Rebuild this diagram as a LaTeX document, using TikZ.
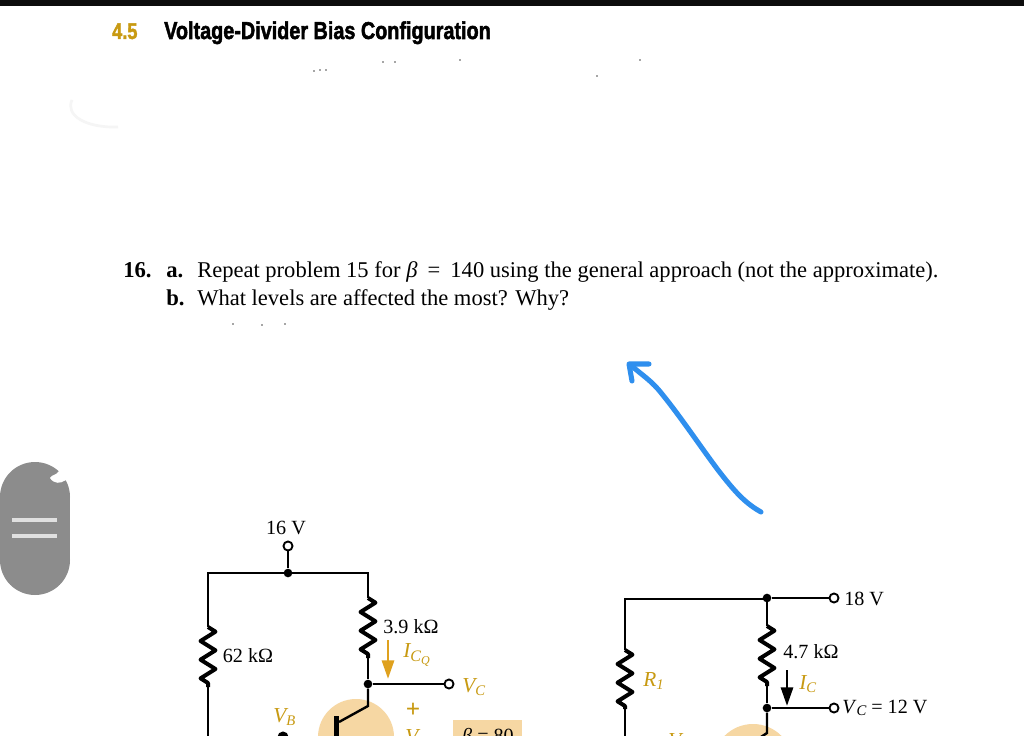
\documentclass[tikz,border=0pt]{standalone}
\usepackage{fontspec}
\setmainfont{Liberation Serif}
\newfontfamily\headfont[BoldFeatures={FakeBold=2.2}]{Liberation Sans}
\usetikzlibrary{decorations.pathmorphing,arrows.meta}
\definecolor{ochre}{HTML}{C89A12}
\definecolor{arrowochre}{HTML}{DFA11E}
\definecolor{tan}{HTML}{F6D7A3}
\definecolor{handblue}{HTML}{2F8FEE}
\definecolor{pillgrey}{HTML}{8C8C8C}
\newcommand{\lowsub}[1]{\raisebox{-.3ex}{\fontsize{11}{12}\selectfont\itshape #1}}
\tikzset{
  wire/.style={line width=1.5pt,black},
  res/.style={line width=3pt,line join=round,decorate,decoration={zigzag,amplitude=5.6pt,segment length=14pt}},
  term/.style={circle,draw,line width=1.4pt,fill=white,inner sep=0pt,minimum size=6.8pt},
  junc/.style={circle,fill=black,inner sep=0pt,minimum size=6.5pt},
  lab/.style={font=\fontsize{15.1}{17}\selectfont,inner sep=0pt},
  olab/.style={font=\fontsize{16}{18}\selectfont\itshape,text=ochre,inner sep=0pt},
  prob/.style={font=\fontsize{16.9}{19}\selectfont,anchor=base west,inner sep=0pt},
  speck/.style={circle,fill=black!70,inner sep=0pt,minimum size=1.4pt},
  ocur/.style={line width=2.2pt,arrowochre,-{Triangle[length=14pt,width=9pt]}},
  kcur/.style={line width=2.2pt,black,-{Triangle[length=14pt,width=9pt]}},
}
\begin{document}
\begin{tikzpicture}[x=0.75pt,y=-0.75pt]
\useasboundingbox (0,0) rectangle (1024,735);
\clip (0,0) rectangle (1024,735);
\fill[white] (0,0) rectangle (1024,735);
\fill[black!95] (0,0) rectangle (1024,6);
% header
\node[anchor=base west,inner sep=0pt,xscale=.8,text=ochre,font=\headfont\bfseries\fontsize{17}{19}\selectfont] (secnum) at (112,39) {4.5};
\node[anchor=base west,inner sep=0pt,xscale=.812,font=\headfont\bfseries\fontsize{18.3}{20}\selectfont] (title) at (164,39) {Voltage-Divider Bias Configuration};
% scan specks
\foreach \p/\q in {314/71,320/70,326/70,383/62,395/62,460/60,597/76,640/60,233/324,262/325,285/324}
  \node[speck] at (\p,\q) {};
\draw[black!4,line width=2pt] (118,127) .. controls (85,128) and (65,115) .. (72,100);
% problem text
\node[prob,font=\fontsize{17}{19}\selectfont\bfseries] (n16) at (123,277) {16.};
\node[prob,font=\fontsize{17}{19}\selectfont\bfseries] (na) at (166,277) {a.};
\node[prob,font=\fontsize{17}{19}\selectfont\bfseries] (nb) at (166,305) {b.};
\node[prob] (ta) at (197,277) {Repeat problem 15 for \textit{β}\hspace{.2em} = \hspace{.2em}140 using the general approach (not the approximate).};
\node[prob] (tb) at (197,305) {What levels are affected the most? Why?};
% grey pill
\fill[pillgrey] (35,497) circle (35);
\fill[pillgrey] (35,560) circle (35);
\fill[pillgrey] (0,497) rectangle (70,560);
\fill[white] (50,478) .. controls (52,474) and (56,476) .. (59,471) -- (72,470) -- (72,482) -- (66,480) .. controls (60,484) and (54,484) .. (50,478) -- cycle;
\foreach \q in {519.5,536} \draw[white!88!black,line width=3pt] (12,\q) -- (57,\q);
% hand-drawn arrow
\coordinate (bs) at (761,512);
\coordinate (be) at (633,367);
\draw[handblue,line width=3.8pt,line cap=round,line join=round]
  (bs) .. controls (745,503) and (735,492) .. (718,470) .. controls (700,446) and (680,416) .. (662,394) .. controls (652,381) and (642,375) .. (be);
\draw[handblue,line width=3.8pt,line cap=round,line join=round] (632,381) -- (629,364) -- (649,364);
% left circuit
\fill[tan] (356,737) circle (38);
\fill[tan] (453,720) rectangle (522,740);
\node[lab] (v16) at (286,528) {16 V};
\node[term] (t16) at (288,546) {};
\node[junc] (j1) at (288,573) {};
\coordinate (c1l) at (208,573);
\coordinate (c1r) at (368,573);
\coordinate (r1a) at (208,627);
\coordinate (r1b) at (208,687);
\coordinate (r2a) at (368,598);
\coordinate (r2b) at (368,658);
\node[junc] (j2) at (368,684) {};
\node[term] (tvc) at (449,684) {};
\coordinate (col) at (368,706);
\coordinate (bar) at (339,722);
\coordinate (lb) at (208,740);
\draw[wire] (t16) -- (j1);
\draw[wire] (r1a) -- (c1l) -- (c1r) -- (r2a);
\draw[res] (r1a) -- (r1b);
\draw[res] (r2a) -- (r2b);
\draw[wire] (r1b) -- (lb);
\draw[wire] (r2b) -- (j2);
\draw[wire] (j2) -- (tvc);
\draw[wire,line width=1.8pt] (j2) -- (col) -- (bar);
\draw[black,line width=3.6pt] (336.5,716) -- (336.5,740);
\node[term,fill=black] (tb1) at (283,737) {};
\node[lab] (l62) at (248,656) {62 kΩ};
\node[lab] (l39) at (411,627) {3.9 kΩ};
\coordinate (ia) at (388,640);
\coordinate (ib) at (388,679);
\draw[ocur] (ia) -- (ib);
\node[olab,anchor=west] (licq) at (403,655) {I\raisebox{-.45ex}{\fontsize{12}{13}\selectfont C\raisebox{-.4ex}{\fontsize{9}{10}\selectfont Q}}};
\node[olab,anchor=west] (lvc) at (462,687) {V\lowsub{C}};
\node[olab,anchor=west] (lvb) at (273,717) {V\lowsub{B}};
\node[lab,text=ochre,font=\fontsize{19}{21}\selectfont\bfseries] (plus) at (413,710) {+};
\node[olab,anchor=west] (lvce) at (405,738) {V\lowsub{CE}};
\node[lab] (lbeta) at (488,738) {\textit{β} = 80};
% right circuit
\fill[tan] (753,764) circle (40);
\node[junc] (j3) at (767,598) {};
\node[term] (t18) at (834,598) {};
\node[lab,anchor=west] (l18) at (844,599) {18 V};
\coordinate (c2l) at (625,599);
\coordinate (r3a) at (625,650);
\coordinate (r3b) at (625,709);
\coordinate (r4a) at (767,626);
\coordinate (r4b) at (767,686);
\node[junc] (j4) at (767,708) {};
\node[term] (tvc2) at (834,708) {};
\coordinate (lb2) at (625,740);
\coordinate (col2) at (767,733);
\coordinate (bar2) at (761,737);
\draw[wire] (r3a) -- (c2l) -- (c2l -| j3) -- (j3) -- (t18);
\draw[wire] (j3) -- (r4a);
\draw[res] (r3a) -- (r3b);
\draw[res] (r4a) -- (r4b);
\draw[wire] (r3b) -- (lb2);
\draw[wire] (r4b) -- (j4);
\draw[wire] (j4) -- (tvc2);
\draw[wire,line width=1.8pt] (j4) -- (col2) -- (bar2);
\node[lab] (l47) at (811,652) {4.7 kΩ};
\coordinate (ka) at (787,670);
\coordinate (kb) at (787,706);
\draw[kcur] (ka) -- (kb);
\node[olab,anchor=west] (lic) at (799,684) {I\lowsub{C}};
\node[olab,anchor=west] (lr1) at (643,681) {R\lowsub{1}};
\node[lab,anchor=west] (lvc2) at (842,708) {\textit{V}\lowsub{C} = 12 V};
\node[olab] (lvx) at (675,741) {V};
\end{tikzpicture}
\end{document}
